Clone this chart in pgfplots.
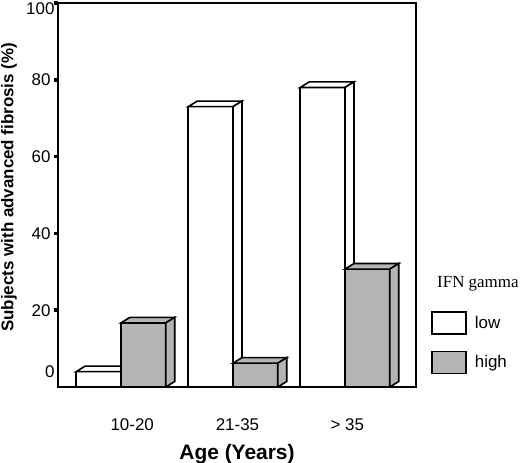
\documentclass[border=0pt]{standalone}
\usepackage{pgfplots}
\pgfplotsset{compat=1.18}
\usepackage{fontspec}
\setmainfont{Liberation Sans}
\newfontfamily\tnr{Liberation Serif}
\definecolor{bargray}{RGB}{180,180,180}
\begin{document}
\begin{tikzpicture}
\begin{axis}[
  name=ax,
  scale only axis, width=358bp, height=384bp,
  xmin=-0.5625, xmax=2.634, ymin=0, ymax=100,
  axis on top,
  axis line style={line width=2bp},
  /pgf/number format/assume math mode=true,
  ytick={20,40,60,80,100},
  yticklabels={20,40,60,80,{}},
  extra y ticks={3.9,98.6}, extra y tick labels={0,100},
  extra y tick style={major tick length=0pt},
  ytick pos=left, tick align=outside, major tick length=4bp,
  ytick style={line width=3.5bp, black},
  xtick={0.1,1.04,2.02}, xticklabels={10-20,21-35,> 35},
  xtick style={draw=none},
  ticklabel style={font=\fontsize{17}{17}\selectfont},
  xticklabel style={inner sep=0pt, yshift=-27bp},
  xlabel={Age (Years)},
  xlabel style={font=\bfseries\fontsize{21}{21}\selectfont, at={(axis description cs:0.5,0)}, anchor=north, inner sep=0pt, yshift=-57bp},
  ylabel={Subjects with advanced fibrosis (\%)},
  ylabel style={font=\bfseries\fontsize{17}{17}\selectfont, at={(axis description cs:0,0.52)}, anchor=south, inner sep=0pt, yshift=41bp},
  legend style={at={(1.042,0.198)}, anchor=north west, draw=none, fill=none, inner sep=0pt,
    row sep=16bp, column sep=6bp, font=\fontsize{17}{17}\selectfont, nodes={inner sep=2bp}},
  legend cell align=left,
  every axis plot/.append style={line width=1.6bp, line join=miter},
]
% front faces, low
\addplot[ybar, bar width=0.4, bar shift=-0.2, draw=black, fill=white,
  legend image code/.code={\draw[draw=black, fill=white, line width=1.6bp] (0bp,-11bp) rectangle (34bp,11bp);}]
  coordinates {(0,4) (1,73) (2,78)};
\addlegendentry{low}
% low tops and sides
\addplot[forget plot, draw=black, fill=white] coordinates {(-0.4,4) (0,4) (0.08,5.45) (-0.32,5.45)} -- cycle;
\addplot[forget plot, draw=black, fill=white] coordinates {(0,0) (0.08,1.45) (0.08,5.45) (0,4)} -- cycle;
\addplot[forget plot, draw=black, fill=white] coordinates {(0.6,73) (1,73) (1.08,74.45) (0.68,74.45)} -- cycle;
\addplot[forget plot, draw=black, fill=white] coordinates {(1,0) (1.08,1.45) (1.08,74.45) (1,73)} -- cycle;
\addplot[forget plot, draw=black, fill=white] coordinates {(1.6,78) (2,78) (2.08,79.45) (1.68,79.45)} -- cycle;
\addplot[forget plot, draw=black, fill=white] coordinates {(2,0) (2.08,1.45) (2.08,79.45) (2,78)} -- cycle;
% front faces, high
\addplot[ybar, bar width=0.4, bar shift=0.2, draw=black, fill=bargray,
  legend image code/.code={\draw[draw=black, fill=bargray, line width=1.6bp] (0bp,-11bp) rectangle (34bp,11bp);}]
  coordinates {(0,16.7) (1,6.2) (2,30.7)};
\addlegendentry{high}
% high tops and sides
\addplot[forget plot, draw=black, fill=bargray] coordinates {(0,16.7) (0.4,16.7) (0.48,18.15) (0.08,18.15)} -- cycle;
\addplot[forget plot, draw=black, fill=bargray] coordinates {(0.4,0) (0.48,1.45) (0.48,18.15) (0.4,16.7)} -- cycle;
\addplot[forget plot, draw=black, fill=bargray] coordinates {(1,6.2) (1.4,6.2) (1.48,7.65) (1.08,7.65)} -- cycle;
\addplot[forget plot, draw=black, fill=bargray] coordinates {(1.4,0) (1.48,1.45) (1.48,7.65) (1.4,6.2)} -- cycle;
\addplot[forget plot, draw=black, fill=bargray] coordinates {(2,30.7) (2.4,30.7) (2.48,32.15) (2.08,32.15)} -- cycle;
\addplot[forget plot, draw=black, fill=bargray] coordinates {(2.4,0) (2.48,1.45) (2.48,32.15) (2.4,30.7)} -- cycle;
\end{axis}
\path (ax.south west) ++(379bp,99bp) node[anchor=base west, inner sep=0pt, font=\tnr\fontsize{17}{17}\selectfont] {IFN gamma};
\pgfresetboundingbox
\path[use as bounding box] (ax.south west) ++(-58bp,-76bp) rectangle ++(520bp,463bp);
\end{tikzpicture}
\end{document}
